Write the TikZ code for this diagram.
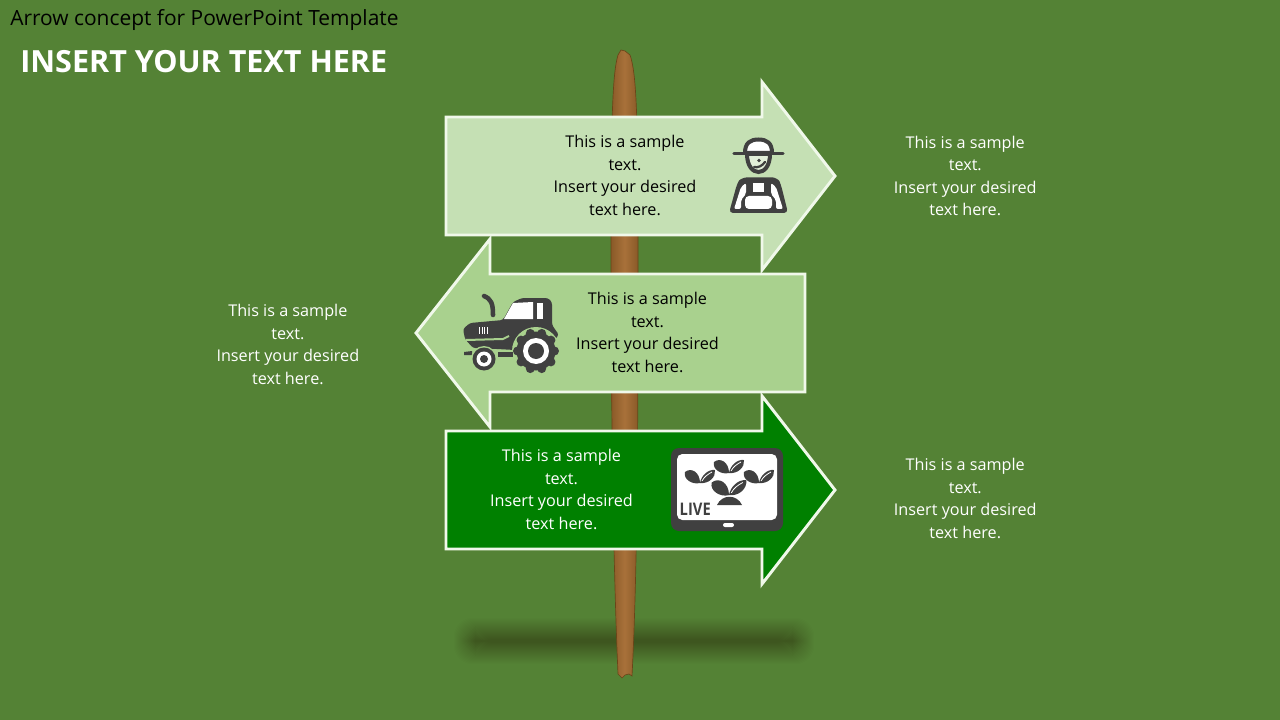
\documentclass[tikz,border=0pt]{standalone}
\usepackage{fontspec}
\setmainfont{Open Sans}
\usetikzlibrary{positioning}
\definecolor{Field}{HTML}{548235}
\definecolor{PaleLeaf}{HTML}{C5E0B4}
\definecolor{MidLeaf}{HTML}{A9D18E}
\definecolor{DeepLeaf}{HTML}{008000}
\definecolor{Rim}{HTML}{F0F8EA}
\definecolor{Icon}{HTML}{404040}
\definecolor{BarkDark}{HTML}{6A4518}
\definecolor{BarkEdge}{HTML}{8A5A28}
\definecolor{BarkLight}{HTML}{A8713A}

\tikzset{
	sprout/.pic={
		\fill[Icon] (0,1) .. controls (0,-10) and (-9,-15) .. (-15,-10) .. controls (-17,-3) and (-8,3) .. (0,1);
		\fill[Icon] (0,1) .. controls (1,-6) and (8,-13) .. (15,-12) .. controls (16,-5) and (9,2) .. (0,1);
		\draw[white, line width=.6pt] (2,-1) .. controls (4,-5) and (8,-8) .. (12,-10);
	}
}

\begin{document}
\begin{tikzpicture}[x=.75pt, y=-.75pt]
	\tikzstyle{signarrow} = [draw=Rim, line width=2.2pt, line join=miter]
	\tikzstyle{sampletext} = [align=center, inner sep=0pt, font=\fontsize{12.15}{16.8}\selectfont]
	
	\fill[Field] (0,0) rectangle (1280,720);
	
	\node[anchor=west, inner sep=0pt, font=\fontsize{15.7}{18}\selectfont] (caption) at (10,20.5) {Arrow concept for PowerPoint Template};
	\node[anchor=west, inner sep=0pt, text=white, font=\fontsize{22.9}{27}\selectfont\bfseries] (title) at (20,61.5) {INSERT YOUR TEXT HERE};
	
	% ground shadow
	\foreach \g in {0,1,...,21}
		\fill[black, opacity=.011, rounded corners=14pt] (454+\g,618+\g) rectangle (814-\g,664-\g);
	
	% pole
	\draw[BarkDark, line width=.5pt, left color=BarkEdge, right color=BarkEdge, middle color=BarkLight]
		(618,55) -- (621,50) -- (625,51) -- (630,55)
		.. controls (636,72) and (638,110) .. (638,240)
		.. controls (638,400) and (638,560) .. (632,676)
		-- (629,674) -- (625,675) -- (622,678) -- (618,674)
		.. controls (613,560) and (611,400) .. (611,240)
		.. controls (611,110) and (613,72) .. (618,55) -- cycle;
	
	% arrows
	\coordinate (tipa) at (835,176);
	\coordinate (tipb) at (416,333);
	\coordinate (tipc) at (835,490);
	\draw[signarrow, fill=PaleLeaf] (446,117) -- (762,117) -- (762,82) -- (tipa) -- (762,270) -- (762,235) -- (446,235) -- cycle;
	\draw[signarrow, fill=MidLeaf] (805,274) -- (490,274) -- (490,239) -- (tipb) -- (490,427) -- (490,392) -- (805,392) -- cycle;
	\draw[signarrow, fill=DeepLeaf] (446,431) -- (762,431) -- (762,396) -- (tipc) -- (762,584) -- (762,549) -- (446,549) -- cycle;
	
	\node[sampletext] (inna) at (625,175.5) {This is a sample\\text.\\Insert your desired\\text here.};
	\node[sampletext] (innb) at (647.5,332.5) {This is a sample\\text.\\Insert your desired\\text here.};
	\node[sampletext, text=white] (innc) at (561.5,489.5) {This is a sample\\text.\\Insert your desired\\text here.};
	\node[sampletext, text=white, right=44pt of tipa] (outa) {This is a sample\\text.\\Insert your desired\\text here.};
	\node[sampletext, text=white, left=42.4pt of tipb, yshift=-8.6pt] (outb) {This is a sample\\text.\\Insert your desired\\text here.};
	\node[sampletext, text=white, right=44pt of tipc, yshift=-6.4pt] (outc) {This is a sample\\text.\\Insert your desired\\text here.};
	
	% farmer
	\draw[Icon, line width=3pt, fill=white] (745,153) .. controls (745,143) and (750,139.5) .. (758.5,139.5) .. controls (767,139.5) and (772,143) .. (772,153) -- cycle;
	\draw[Icon, line width=3pt, fill=PaleLeaf!50!white] (747,154) .. controls (747,178) and (770,178) .. (770,154) -- cycle;
	\draw[Icon, line width=2.6pt, line cap=round] (734,153.5) -- (783,153.5);
	\draw[Icon, line width=1.7pt, line cap=round] (754,167) .. controls (758,168) and (762,166) .. (765,162);
	\fill[Icon] (759,160.5) circle (1.8);
	\fill[Icon, rounded corners=3pt] (729,213) -- (737,184) .. controls (740,179) and (745,177.5) .. (750,177.5) -- (769,177.5) .. controls (775,177.5) and (779,180) .. (781,185) -- (788,213) -- cycle;
	\fill[white, rounded corners=1.5pt] (734,209) -- (741,187) -- (746,183) -- (746,194) -- (741,200) -- (741,209) -- cycle;
	\fill[white, rounded corners=1.5pt] (783,209) -- (776,187) -- (771,183) -- (771,194) -- (776,200) -- (776,209) -- cycle;
	\fill[white] (753,183) rectangle (764,192);
	\fill[white, rounded corners=3pt] (745,196) rectangle (772,209);
	
	% tractor
	\draw[Icon, line width=3.4pt, line cap=round] (484,296) .. controls (491,299) and (493,303) .. (493,315);
	\fill[Icon, rounded corners=2pt] (463,329) -- (470,323) -- (503,320) -- (513,302) -- (522,298) -- (548,298) -- (552,302) -- (552,325) -- (559,335) -- (552,342) -- (515,350) -- (497,349) -- (473,348) -- (465,339) -- cycle;
	\fill[white] (504,319) -- (513,303) -- (533,302) -- (533,319) -- cycle;
	\fill[white] (537,303) rectangle (543,319);
	\foreach \gx in {479,481.5,484,486.5}
		\fill[white] (\gx,327) rectangle (\gx+1.2,334);
	\draw[MidLeaf, line width=1.5pt] (466,340) -- (503,339) -- (509,336);
	\fill[MidLeaf] (536,351) circle (24);
	\fill[Icon] (464,352) -- (472,351) -- (472,355) -- (464,355) -- cycle;
	\fill[Icon] (498,352) -- (513,352) -- (513,357) -- (498,357) -- cycle;
	\foreach \a in {0,36,...,324}
		\fill[Icon] (536,351) ++(\a:18.5) circle (4.5);
	\fill[Icon] (536,351) circle (19.5);
	\fill[white] (536,351) circle (13);
	\fill[Icon] (536,351) circle (8);
	\fill[MidLeaf] (484,359) circle (13);
	\fill[Icon] (484,359) circle (11.5);
	\fill[white] (484,359) circle (7.5);
	\fill[Icon] (484,359) circle (4);
	
	% tablet
	\fill[Icon, rounded corners=6pt] (671,448) rectangle (783,531);
	\fill[white, rounded corners=4pt] (677,454) rectangle (777,520);
	\fill[white, rounded corners=1.5pt] (723,523) rectangle (734,527);
	\pic at (700,482) {sprout};
	\pic at (729,472) {sprout};
	\pic at (759,482) {sprout};
	\pic[scale=1.15] at (729,494) {sprout};
	\fill[Icon] (717,505) .. controls (722,494) and (737,494) .. (742,505) -- cycle;
	\node[anchor=west, inner sep=0pt, text=Icon, xscale=.85, font=\fontsize{13}{15}\selectfont\bfseries] (live) at (679.5,509) {LIVE};
\end{tikzpicture}
\end{document}
